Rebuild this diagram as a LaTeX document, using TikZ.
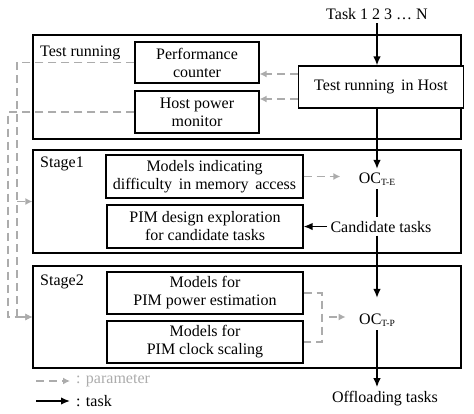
\documentclass[tikz,border=0pt]{standalone}
\usepackage{fontspec}
\setmainfont{Liberation Serif}
\usetikzlibrary{arrows.meta}
\definecolor{paramgray}{RGB}{172,172,172}
\tikzset{
  stagebox/.style={draw, line width=1.2pt, minimum width=428pt, inner sep=0pt},
  modelbox/.style={draw, line width=1.2pt, align=center, inner sep=0pt},
  taskline/.style={-{Latex[length=9pt,width=7.5pt]}, line width=1.5pt},
  paramline/.style={-{Latex[length=7pt,width=7pt]}, paramgray, line width=1.7pt, dash pattern=on 8pt off 5pt},
}
\newcommand{\oc}[1]{OC\raisebox{-0.4ex}{\fontsize{9.5}{9.5}\selectfont #1}}
\begin{document}
\begin{tikzpicture}[x=1pt, y=-1pt, font=\fontsize{16}{18}\selectfont]
    \useasboundingbox (0,0) rectangle (474,413);

    % 1. Khung ngoai
    \node[stagebox, minimum height=104pt] (testrun) at (247,87) {};
    \node[stagebox, minimum height=103pt] (stage1) at (247,201.5) {};
    \node[stagebox, minimum height=102pt] (stage2) at (247,317) {};
    \node[anchor=base west, inner sep=0pt] (testlab) at (40,56) {Test running};
    \node[anchor=base west, inner sep=0pt] (s1lab) at (40,167.5) {Stage1};
    \node[anchor=base west, inner sep=0pt] (s2lab) at (40,285.5) {Stage2};

    % 2. Cac hop
    \node[modelbox, minimum width=124pt, minimum height=41pt] (perf) at (197,62.5) {Performance\\counter};
    \node[modelbox, minimum width=124pt, minimum height=42pt] (hostpow) at (197,112) {Host power\\monitor};
    \node[modelbox, minimum width=165pt, minimum height=42pt, fill=white] (host) at (381,87) {Test running\, in Host};
    \node[modelbox, minimum width=197pt, minimum height=43pt] (models1) at (204.5,176.5) {Models indicating\\difficulty\, in memory\, access};
    \node[modelbox, minimum width=196pt, minimum height=43pt] (pimdesign) at (205,226.5) {PIM design exploration\\for candidate tasks};
    \node[modelbox, minimum width=196pt, minimum height=42pt] (power) at (205,293) {Models for\\PIM power estimation};
    \node[modelbox, minimum width=196pt, minimum height=42pt] (clock) at (205,342) {Models for\\PIM clock scaling};

    % 3. Nhan
    \node[anchor=base] (tasklab) at (377,19.5) {Task 1 2 3 … N};
    \node[anchor=base] (octe) at (377,183) {\oc{T-E}};
    \node[anchor=base] (cand) at (381,232) {Candidate tasks};
    \node[anchor=base] (octp) at (377,324) {\oc{T-P}};
    \node[anchor=base] (offload) at (385,402) {Offloading tasks};

    % 4. Duong task
    \draw[taskline] (tasklab) -- (tasklab |- host.north);
    \draw[taskline] (octe |- host.south) -- (octe.north);
    \draw[line width=1.5pt] (octe.south) -- (octe |- cand.north);
    \draw[taskline] (octe |- cand.south) -- ([yshift=12pt]octp.north);
    \draw[taskline] (octp.south) -- (octp.south |- offload.north);
    \draw[taskline] (cand.west) -- (cand.west -| pimdesign.east);

    % 5. Duong tham so
    \draw[paramline] ([yshift=13pt]host.west) -- ([yshift=13pt]host.west -| perf.east);
    \draw[paramline] ([yshift=-12pt]host.west) -- ([yshift=-12pt]host.west -| hostpow.east);
    \draw[paramline, shorten >=15pt] (models1.east) -- (models1.east -| octe.west);
    \coordinate (brk) at (322,317);
    \draw[paramline, -] (power.east) -| (brk) |- (clock.east);
    \draw[paramline, shorten <=7pt, shorten >=10pt] (brk) -- (octp.west |- brk);
    \coordinate (fbA) at (17,317);
    \coordinate (fbB) at (8,317);
    \draw[paramline] (perf.west) -| (fbA) -- (stage2.west);
    \draw[paramline] (fbA |- stage1.west) -- (stage1.west);
    \draw[paramline] (hostpow.west) -| (fbB) -- (stage2.west);

    % 6. Chu thich
    \coordinate (lgA) at (36,381);
    \coordinate (lgB) at (70,381);
    \coordinate (lgC) at (36,401);
    \coordinate (lgD) at (70,401);
    \draw[paramline] (lgA) -- (lgB);
    \draw[taskline] (lgC) -- (lgD);
    \node[anchor=west, text=paramgray, inner sep=0pt] (lgparam) at (76,381) {: parameter};
    \node[anchor=west, inner sep=0pt] (lgtask) at (76,401) {: task};
\end{tikzpicture}
\end{document}
